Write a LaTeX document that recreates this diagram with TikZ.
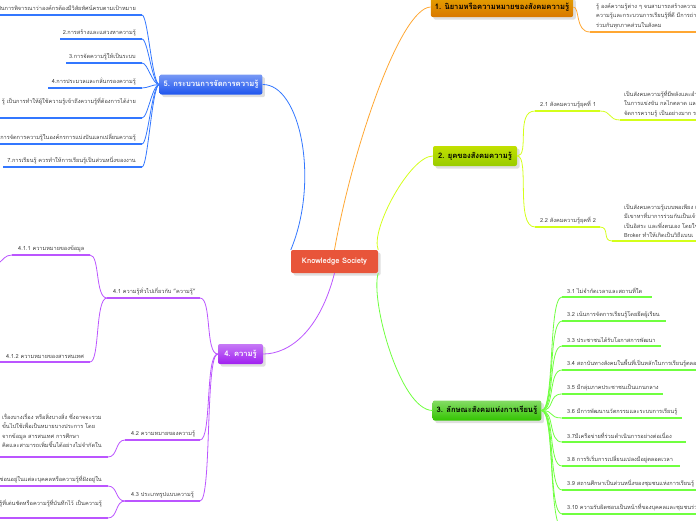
\documentclass[tikz,border=0pt]{standalone}
\usepackage{fontspec}
\IfFontExistsTF{Garuda.otf}{\setmainfont{Garuda.otf}[BoldFont=Garuda-Bold.otf,Script=Thai]}{\IfFontExistsTF{Loma.otf}{\setmainfont{Loma.otf}[BoldFont=Loma-Bold.otf,Script=Thai]}{\setmainfont{Noto Sans}}}
\usetikzlibrary{shadows}
\definecolor{cOr}{HTML}{D97800}\definecolor{lOr}{HTML}{FFA733}
\definecolor{cYg}{HTML}{99CC00}\definecolor{lYg}{HTML}{D4FF1A}
\definecolor{cGr}{HTML}{33C400}\definecolor{lGr}{HTML}{70FF40}
\definecolor{cPu}{HTML}{A020F0}\definecolor{lPu}{HTML}{BB55FF}
\definecolor{cBl}{HTML}{1E55EE}\definecolor{lBl}{HTML}{3377FF}
\definecolor{cRe}{HTML}{E8553A}
\tikzset{
 main/.style={draw=none,rounded corners=2pt,text=white,font=\fontsize{7.6}{8}\selectfont\bfseries,inner xsep=4pt,minimum height=20pt,drop shadow={opacity=.25}},
 leaf/.style={font=\fontsize{5.6}{9.5}\selectfont,text=black!75,inner sep=1pt,align=left},
 ul/.style={line width=2.2pt},
 cn/.style={line width=0.8pt},
}
\begin{document}
\begin{tikzpicture}[x=1pt,y=-1pt]
\useasboundingbox (0,0) rectangle (696,520);
% center
\node[main,fill=cRe,minimum width=87pt,minimum height=23pt] (c) at (334.5,261.5) {Knowledge Society};
% branch boxes
\node[main,top color=cOr!70!yellow,bottom color=cOr,text=black,minimum width=138pt] (b1) at (502,7) {1. นิยามหรือความหมายของสังคมความรู้};
\node[main,top color=cYg!60!yellow,bottom color=cYg,text=black,minimum width=84pt] (b2) at (475,156) {2. ยุคของสังคมความรู้};
\node[main,top color=cGr!60!white,bottom color=cGr,text=black,minimum width=108pt] (b3) at (487,410.5) {3. ลักษณะสังคมแห่งการเรียนรู้};
\node[main,top color=cPu!60!white,bottom color=cPu,minimum width=45pt] (b4) at (240.5,354) {4. ความรู้};
\node[main,top color=cBl!60!white,bottom color=cBl,minimum width=102pt] (b5) at (211,84.5) {5. กระบวนการจัดการความรู้};
% center connectors
\draw[cn,lOr] (c.north) ..controls (352,150) and (400,8) .. (b1.west);
\draw[cn,lYg] (c.north east) ..controls (370,230) and (410,156) .. (b2.west);
\draw[cn,lGr] (c.south east) ..controls (370,300) and (400,410) .. (b3.west);
\draw[cn,lPu] (c.south) ..controls (320,330) and (290,354) .. (b4.east);
\draw[cn,lBl] (c.north west) ..controls (320,180) and (300,84) .. (b5.east);

% ---- branch 1
\coordinate (u1a) at (590,32); \coordinate (u1b) at (696,32);
\node[leaf,anchor=south west] (t1) at (595,30) {รู้ องค์ความรู้ต่าง ๆ จนสามารถสร้างความรู้\\ความรู้และกระบวนการเรียนรู้ที่ดี มีการถ่ายทอด\\ร่วมกันทุกภาคส่วนในสังคม};
\draw[cn,lOr] (b1.east) ..controls (580,7) and (575,32) .. (u1a);
\draw[ul,lOr] (u1a) -- (u1b);

% ---- branch 2
\coordinate (u21a) at (535,111); \coordinate (u21b) at (600,111);
\node[leaf,anchor=south west] (t21) at (539,109) {2.1 สังคมความรู้ยุคที่ 1};
\draw[cn,lYg] (b2.east) ..controls (530,156) and (515,111) .. (u21a);
\draw[ul,lYg] (u21a) -- (u21b);
\coordinate (u211a) at (620,120); \coordinate (u211b) at (696,120);
\node[leaf,anchor=south west] (t211) at (623,118) {เป็นสังคมความรู้ที่มีพลังและอำ\\ในการแข่งขัน กลไกตลาด แล\\จัดการความรู้ เป็นอย่างมาก ร};
\draw[cn,lYg] (u21b) ..controls (612,111) and (608,120) .. (u211a);
\draw[ul,lYg] (u211a) -- (u211b);
\coordinate (u22a) at (535,227); \coordinate (u22b) at (600,227);
\node[leaf,anchor=south west] (t22) at (539,225) {2.2 สังคมความรู้ยุคที่ 2};
\draw[cn,lYg] (b2.east) ..controls (530,156) and (515,227) .. (u22a);
\draw[ul,lYg] (u22a) -- (u22b);
\coordinate (u221a) at (612,241); \coordinate (u221b) at (696,241);
\node[leaf,anchor=south west] (t221) at (623,239) {เป็นสังคมความรู้แบบพอเพียง แ\\มีเขาหาที่มาการร่วมกันเป็นเจ้า\\เป็นอิสระ และพึ่งตนเอง โดยใช้\\Broker ทำให้เกิดเป็นวิถีแบบเ};
\draw[cn,lYg] (u22b) ..controls (610,227) and (602,241) .. (u221a);
\draw[ul,lYg] (u221a) -- (u221b);

% ---- branch 3
\foreach \i/\y/\l/\t in {
 1/297/652/{3.1 ไม่จำกัดเวลาและสถานที่ใด},
 2/321/666/{3.2 เน้นการจัดการเรียนรู้โดยยึดผู้เรียน},
 3/346/661/{3.3 ประชาชนได้รับโอกาสการพัฒนา},
 4/370/696/{3.4 สถาบันทางสังคมในพื้นที่เป็นหลักในการเรียนรู้ตลอดชีวิต},
 5/394/663/{3.5 มีกลุ่มภาคประชาชนเป็นแกนกลาง},
 6/418/682/{3.6 มีการพัฒนานวัตกรรมและระบบการเรียนรู้},
 7/442/686/{3.7มีเครือข่ายที่ร่วมดำเนินการอย่างต่อเนื่อง},
 8/466/680/{3.8 การริเริ่มการเปลี่ยนแปลงมีอยู่ตลอดเวลา},
 9/490/696/{3.9 สถานศึกษาเป็นส่วนหนึ่งของชุมชนแห่งการเรียนรู้},
 10/514/696/{3.10 ความรับผิดชอบเป็นหน้าที่ของบุคคลและชุมชนร่วม}}{
 \coordinate (u3\i a) at (562,\y); \coordinate (u3\i b) at (\l,\y);
 \node[leaf,anchor=south west] (t3\i) at (566,\y-2) {\t};
 \draw[cn,lGr] (b3.east) ..controls (555,410.5) and (548,\y) .. (u3\i a);
 \draw[ul,lGr] (u3\i a) -- (u3\i b);
}
\draw[cn,lGr] (b3.east) ..controls (555,410.5) and (548,520) .. (562,530);

% ---- branch 4
\coordinate (u41a) at (107,298); \coordinate (u41b) at (200,298);
\node[leaf,anchor=south west] (t41) at (112,296) {4.1 ความรู้ทั่วไปเกี่ยวกับ "ความรู้"};
\draw[cn,lPu] (b4.west) ..controls (205,354) and (212,298) .. (u41b);
\draw[ul,lPu] (u41a) -- (u41b);
\coordinate (u411a) at (12,255); \coordinate (u411b) at (90,255);
\node[leaf,anchor=south west] (t411) at (17,253) {4.1.1 ความหมายของข้อมูล};
\draw[cn,lPu] (u41a) ..controls (95,298) and (100,255) .. (u411b);
\draw[ul,lPu] (u411a) -- (u411b);
\draw[cn,lPu] (u411a) ..controls (5,255) and (3,260) .. (0,262);
\coordinate (u412a) at (0,362); \coordinate (u412b) at (90,362);
\node[leaf,anchor=south west] (t412) at (5,360) {4.1.2 ความหมายของสารสนเทศ};
\draw[cn,lPu] (u41a) ..controls (95,298) and (100,362) .. (u412b);
\draw[ul,lPu] (u412a) -- (u412b);
\coordinate (u42a) at (125,440); \coordinate (u42b) at (200,440);
\node[leaf,anchor=south west] (t42) at (130,438) {4.2 ความหมายของความรู้};
\draw[cn,lPu] (b4.west) ..controls (205,354) and (212,440) .. (u42b);
\draw[ul,lPu] (u42a) -- (u42b);
\coordinate (u421a) at (0,457); \coordinate (u421b) at (108,457);
\node[leaf,anchor=south east] (t421) at (103,449) {เรื่องบางเรื่อง หรือสิ่งบางสิ่ง ซึ่งอาจจะรวม\\ขั้นไปใช้เพื่อเป็นหมายบางประการ โดย\\จากข้อมูล สารสนเทศ การศึกษา\\คิดและสามารถเพิ่มขึ้นได้อย่างไม่จำกัดใน};
\draw[cn,lPu] (u42a) ..controls (115,440) and (118,457) .. (u421b);
\draw[ul,lPu] (u421a) -- (u421b);
\coordinate (u43a) at (125,501); \coordinate (u43b) at (200,501);
\node[leaf,anchor=south west] (t43) at (130,499) {4.3 ประเภทรูปแบบความรู้};
\draw[cn,lPu] (b4.west) ..controls (205,354) and (212,501) .. (u43b);
\draw[ul,lPu] (u43a) -- (u43b);
\coordinate (u431a) at (0,486); \coordinate (u431b) at (108,486);
\node[leaf,anchor=south east] (t431) at (103,484) {ที่ซ่อนอยู่ในแต่ละบุคคลหรือความรู้ที่ฝังอยู่ใน};
\draw[cn,lPu] (u43a) ..controls (115,501) and (118,486) .. (u431b);
\draw[ul,lPu] (u431a) -- (u431b);
\coordinate (u432a) at (0,518); \coordinate (u432b) at (108,518);
\node[leaf,anchor=south east] (t432) at (103,508) {รู้ที่เด่นชัดหรือความรู้ที่บันทึกไว้ เป็นความรู้};
\draw[cn,lPu] (u43a) ..controls (115,501) and (118,518) .. (u432b);
\draw[ul,lPu] (u432a) -- (u432b);

% ---- branch 5
\foreach \i/\y/\l/\ty/\t in {
 1/15/0/13/{รู้ เป็นการพิจารณาว่าองค์กรต้องมีวิสัยทัศน์ครบตามเป้าหมาย},
 2/39/60/37/{2.การสร้างและแสวงหาความรู้},
 3/63/66/61/{3.การจัดความรู้ให้เป็นระบบ},
 4/88/48/86/{4.การประมวลและกลั่นกรองความรู้},
 5/118/0/106/{รู้ เป็นการทำให้ผู้ใช้ความรู้เข้าถึงความรู้ที่ต้องการได้ง่าย},
 6/144/0/142/{6.การจัดการความรู้ในองค์กรการแบ่งปันแลกเปลี่ยนความรู้},
 7/167/3/165/{7.การเรียนรู้ ควรทำให้การเรียนรู้เป็นส่วนหนึ่งของงาน}}{
 \coordinate (u5\i a) at (\l,\y); \coordinate (u5\i b) at (142,\y);
 \node[leaf,anchor=south east] (t5\i) at (137,\ty) {\t};
 \draw[cn,lBl] (b5.west) ..controls (152,84.5) and (148,\y) .. (u5\i b);
 \draw[ul,lBl] (u5\i a) -- (u5\i b);
}
\end{tikzpicture}
\end{document}
